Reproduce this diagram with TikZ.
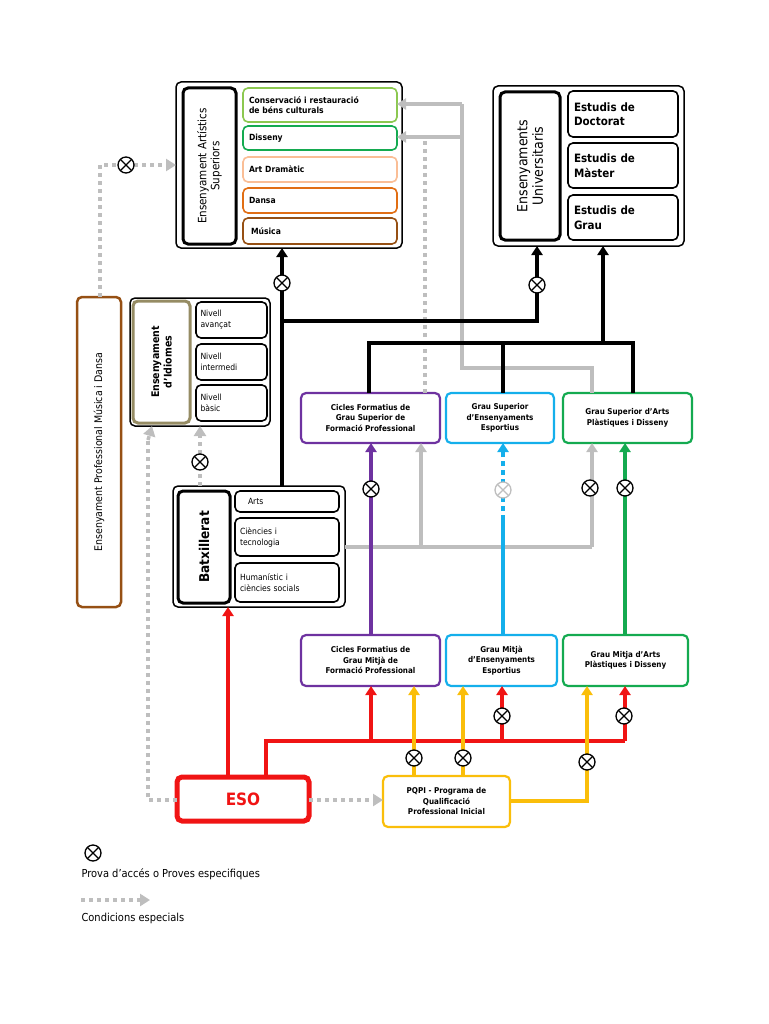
\documentclass[tikz,border=0pt]{standalone}
\usepackage{fontspec}
\setmainfont{DejaVu Sans Condensed}
\usetikzlibrary{arrows.meta}
\definecolor{cLG}{RGB}{140,200,80}
\definecolor{cG}{RGB}{20,170,80}
\definecolor{cPe}{RGB}{250,190,150}
\definecolor{cOr}{RGB}{225,110,20}
\definecolor{cBr}{RGB}{150,80,20}
\definecolor{cOl}{RGB}{150,140,100}
\definecolor{cPu}{RGB}{110,50,160}
\definecolor{cCy}{RGB}{20,175,235}
\definecolor{cRe}{RGB}{240,20,20}
\definecolor{cYe}{RGB}{250,190,10}
\definecolor{cGr}{RGB}{190,190,190}
\begin{document}
\begin{tikzpicture}[x=1pt,y=-1pt,
 bx/.style={draw,rounded corners=5pt,line width=1.5pt,inner sep=0pt,outer sep=0pt,fill=white},
 sub/.style={bx,line width=1.6pt,font=\bfseries\fontsize{8.5}{10}\selectfont,align=left,text width=#1},
 lab/.style={bx,line width=3pt,rotate=90,font=\fontsize{11.5}{13}\selectfont,align=center},
 col/.style={bx,line width=2.2pt,font=\bfseries\fontsize{8}{10.5}\selectfont,align=center},
 acc/.style={circle,draw,line width=1.3pt,fill=white,minimum size=16pt,inner sep=0pt,
   path picture={\draw[line width=1.3pt] (path picture bounding box.south west)--(path picture bounding box.north east)
   (path picture bounding box.north west)--(path picture bounding box.south east);}},
 ln/.style={line width=3.5pt,draw=#1},
 ar/.style={ln=#1,-{Triangle[length=9pt,width=11pt]}},
 dt/.style={line width=3.5pt,draw=cGr,dash pattern=on 4pt off 4pt},
 dar/.style={dt,-{Triangle[length=10pt,width=12pt]}}]
\useasboundingbox (0,0) rectangle (768,1024);
% boxes
\node[bx,minimum width=226pt,minimum height=166pt] (eas) at (289,165) {};
\node[lab,minimum width=156pt,minimum height=53pt] (easl) at (209.5,166) {Ensenyament Artístics\\Superiors};
\node[sub=142pt,draw=cLG,minimum width=154pt,minimum height=34pt] (cons) at (320,105) {Conservació i restauració\\de béns culturals};
\node[sub=142pt,draw=cG,minimum width=154pt,minimum height=24pt] (diss) at (320,138) {Disseny};
\node[sub=142pt,draw=cPe,minimum width=154pt,minimum height=25pt] (art) at (320,169.5) {Art Dramàtic};
\node[sub=142pt,draw=cOr,minimum width=154pt,minimum height=25pt] (dan) at (320,200.5) {Dansa};
\node[sub=142pt,draw=cBr,minimum width=154pt,minimum height=26pt] (mus) at (320,231) {\hspace*{2pt}Música};

\node[bx,minimum width=191pt,minimum height=160pt] (eu) at (588.5,166) {};
\node[lab,minimum width=148pt,minimum height=60pt,font=\fontsize{14}{15.5}\selectfont] (eul) at (530,166) {Ensenyaments\\Universitaris};
\node[sub=98pt,minimum width=110pt,minimum height=46pt,font=\bfseries\fontsize{11.5}{14.5}\selectfont] (doc) at (623,114) {Estudis de\\Doctorat};
\node[sub=98pt,minimum width=110pt,minimum height=45pt,font=\bfseries\fontsize{11.5}{14.5}\selectfont] (mas) at (623,165.5) {Estudis de\\Màster};
\node[sub=98pt,minimum width=110pt,minimum height=45pt,font=\bfseries\fontsize{11.5}{14.5}\selectfont] (gra) at (623,217.5) {Estudis de\\Grau};

\node[bx,minimum width=140pt,minimum height=128pt] (idi) at (200,362) {};
\node[lab,draw=cOl,minimum width=122pt,minimum height=57pt,font=\bfseries\fontsize{10.5}{12.5}\selectfont] (idil) at (161.5,362) {Ensenyament\\d'Idiomes};
\node[sub=62pt,font=\fontsize{8.5}{11}\selectfont,minimum width=71pt,minimum height=36pt] (n1) at (231.5,320) {Nivell\\avançat};
\node[sub=62pt,font=\fontsize{8.5}{11}\selectfont,minimum width=71pt,minimum height=36pt] (n2) at (231.5,362) {Nivell\\intermedi};
\node[sub=62pt,font=\fontsize{8.5}{11}\selectfont,minimum width=71pt,minimum height=36pt] (n3) at (231.5,403) {Nivell\\bàsic};

\node[bx,draw=cBr,line width=2.5pt,rotate=90,minimum width=310pt,minimum height=44pt,font=\fontsize{10.5}{12}\selectfont] (pmd) at (99,452) {Ensenyament Professional Música i Dansa};

\node[bx,minimum width=172pt,minimum height=121pt] (bat) at (259,546.5) {};
\node[lab,minimum width=112pt,minimum height=52pt,font=\bfseries\fontsize{13.5}{15}\selectfont] (batl) at (204,547) {Batxillerat};
\node[sub=94pt,font=\fontsize{8.5}{11}\selectfont,minimum width=104pt,minimum height=21pt] (ba1) at (287,501.5) {\hspace*{8pt}Arts};
\node[sub=94pt,font=\fontsize{8.5}{11}\selectfont,minimum width=104pt,minimum height=38pt] (ba2) at (287,537) {Ciències i\\tecnologia};
\node[sub=94pt,font=\fontsize{8.5}{11}\selectfont,minimum width=104pt,minimum height=39pt] (ba3) at (287,582.5) {Humanístic i\\ciències socials};

\node[col,draw=cPu,minimum width=139pt,minimum height=50pt] (cfgs) at (370.5,418) {Cicles Formatius de\\Grau Superior de\\Formació Professional};
\node[col,draw=cCy,minimum width=108pt,minimum height=50pt] (gsee) at (500,418) {Grau Superior\\d'Ensenyaments\\Esportius};
\node[col,draw=cG,minimum width=129pt,minimum height=50pt] (gsap) at (627.5,418) {Grau Superior d'Arts\\Plàstiques i Disseny};
\node[col,draw=cPu,minimum width=139pt,minimum height=51pt] (cfgm) at (370.5,660.5) {Cicles Formatius de\\Grau Mitjà de\\Formació Professional};
\node[col,draw=cCy,minimum width=111pt,minimum height=51pt] (gmee) at (501.5,660.5) {Grau Mitjà\\d'Ensenyaments\\Esportius};
\node[col,draw=cG,minimum width=125pt,minimum height=51pt] (gmap) at (625.5,660.5) {Grau Mitja d'Arts\\Plàstiques i Disseny};
\node[bx,draw=cRe,text=cRe,line width=5pt,minimum width=132pt,minimum height=44pt,font=\bfseries\fontsize{17}{18}\selectfont] (eso) at (243,799) {ESO};
\node[col,draw=cYe,minimum width=127pt,minimum height=51pt] (pqpi) at (446.5,801.5) {PQPI - Programa de\\Qualificació\\Professional Inicial};

% gray lines
\draw[ln=cGr] (gsap.north -| 592,0) -- (592,368) -- (462,368) -- (462,104) coordinate (g1);
\draw[ar=cGr] (g1) -- (cons.east |- g1);
\draw[ar=cGr] (462,137) -- (diss.east |- 0,137);
\draw[dt] (cfgs.north -| 425,0) -- (425,137);
\draw[ln=cGr] (bat.east |- 0,547) -- (592,547);
\draw[ar=cGr] (421,547) -- (cfgs.south -| 421,0);
\draw[ar=cGr] (592,547) -- (gsap.south -| 592,0);
\node[acc] (a10) at (590,488) {};
% black
\draw[ar=black] (bat.north -| 282,0) -- (eas.south -| 282,0);
\draw[ln=black] (282,321) -- (537,321) -- (537,300);
\draw[ar=black] (537,300) -- (eu.south -| 537,0);
\draw[ln=black] (cfgs.north -| 369,0) -- (369,343) -- (633,343) -- (gsap.north -| 633,0);
\draw[ln=black] (503,343) -- (gsee.north -| 503,0);
\draw[ar=black] (603,343) -- (eu.south -| 603,0);
\node[acc] (a1) at (282,283) {};
\node[acc] (a2) at (537,285) {};
% dotted
\draw[dt] (pmd.east -| 100,0) -- (100,165) -- (126,165);
\draw[dar] (126,165) -- (eas.west |- 0,165);
\node[acc] (a3) at (126,165) {};
\draw[dt] (eso.west |- 0,800) -- (148,800) -- (148,440);
\draw[dar] (148,440) -- (idi.south -| 152,0);
\draw[dar] (bat.north -| 200,0) -- (idi.south -| 200,0);
\node[acc] (a4) at (200,462) {};
\draw[dar] (eso.east |- 0,800) -- (pqpi.west |- 0,800);
% purple, cyan, green
\draw[ar=cPu] (cfgm.north -| 371,0) -- (cfgs.south -| 371,0);
\node[acc] (a5) at (371,489) {};
\draw[ln=cCy] (gmee.north -| 503,0) -- (503,520);
\draw[ln=cCy,dash pattern=on 5pt off 4pt,-{Triangle[length=9pt,width=11pt]}] (503,520) -- (gsee.south -| 503,0);
\node[acc,draw=cGr,path picture={\draw[cGr,line width=1.3pt] (path picture bounding box.south west)--(path picture bounding box.north east) (path picture bounding box.north west)--(path picture bounding box.south east);}] (a6) at (503,490) {};
\draw[ar=cG] (gmap.north -| 625,0) -- (gsap.south -| 625,0);
\node[acc] (a7) at (625,488) {};
% red
\draw[ar=cRe] (eso.north -| 228,0) -- (bat.south -| 228,0);
\draw[ln=cRe] (eso.north -| 266,0) -- (266,741) -- (625,741);
\draw[ar=cRe] (371,741) -- (cfgm.south -| 371,0);
\draw[ar=cRe] (502,741) -- (gmee.south -| 502,0);
\draw[ar=cRe] (625,741) -- (gmap.south -| 625,0);
\node[acc] (a8) at (502,716) {};
\node[acc] (a9) at (624,716) {};
% yellow
\draw[ar=cYe] (pqpi.north -| 414,0) -- (cfgm.south -| 414,0);
\draw[ar=cYe] (pqpi.north -| 463,0) -- (gmee.south -| 463,0);
\draw[ln=cYe] (pqpi.east |- 0,801) -- (587,801) -- (587,740);
\draw[ar=cYe] (587,740) -- (gmap.south -| 587,0);
\node[acc] (a11) at (414,758) {};
\node[acc] (a12) at (463,758) {};
\node[acc] (a13) at (587,762) {};
% legend
\node[acc] (lg1) at (93,853) {};
\node[anchor=west,font=\fontsize{11}{14}\selectfont] (lt1) at (78,874) {Prova d'accés o Proves especifiques};
\coordinate (ls) at (81,900);
\coordinate (le) at (150,900);
\draw[dar] (ls) -- (le);
\node[anchor=west,font=\fontsize{11}{14}\selectfont] (lt2) at (78,918) {Condicions especials};
\end{tikzpicture}
\end{document}
